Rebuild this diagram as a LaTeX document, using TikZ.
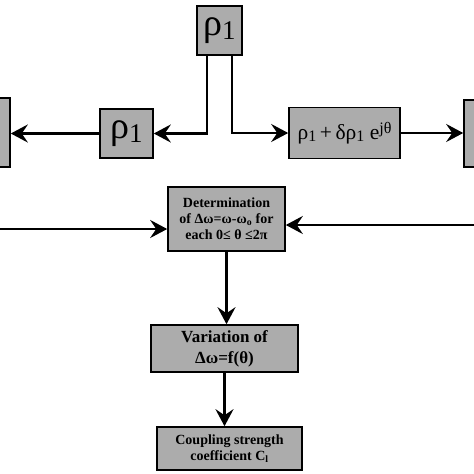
\documentclass[tikz,border=0pt]{standalone}
\usepackage{fontspec}
\setmainfont{Liberation Serif}
\newfontfamily\timesf{Liberation Serif}
\usetikzlibrary{arrows.meta}
\definecolor{boxgray}{RGB}{172,172,172}
\tikzset{
  box/.style={draw=black, line width=1.6pt, fill=boxgray, inner sep=0pt, align=center},
  arr/.style={line width=2.2pt, -{Stealth[length=17pt,width=18pt,inset=6pt]}},
}
\newcommand{\rhoone}{{\timesf\fontsize{38}{38}\selectfont ρ\raisebox{-0.25ex}{\fontsize{27}{27}\selectfont 1}}}
\begin{document}
\begin{tikzpicture}[x=1pt,y=-1pt]
\useasboundingbox (0,0) rectangle (474,474);
\clip (0,0) rectangle (474,474);
\node[box, minimum width=45pt, minimum height=49pt] (top) at (219.5,30.5) {\rhoone};
\node[box, minimum width=53pt, minimum height=49pt] (mid) at (126.5,133.5) {\rhoone};
\node[box, minimum width=111pt, minimum height=51pt, font=\timesf] (sum) at (344.5,133)
  {\fontsize{21.5}{21.5}\selectfont ρ\raisebox{-0.25ex}{\fontsize{16}{16}\selectfont 1}\,+\,δρ\raisebox{-0.25ex}{\fontsize{16}{16}\selectfont 1} e\raisebox{0.6ex}{\fontsize{16}{16}\selectfont jθ}};
\node[box, minimum width=50pt, minimum height=69pt] (leftedge) at (-15,132.5) {};
\node[box, minimum width=50pt, minimum height=67pt] (rightedge) at (489,133.5) {};
\node[box, minimum width=117pt, minimum height=64pt, font=\timesf\bfseries\fontsize{14}{16}\selectfont] (det) at (226.5,219)
  {Determination\\of Δω=ω-ω\textsubscript{o} for\\each 0≤ θ ≤2π};
\node[box, minimum width=147pt, minimum height=47pt, font=\timesf\bfseries\fontsize{17}{21}\selectfont] (var) at (224.5,348.5)
  {Variation of\\Δω=f(θ)};
\node[box, minimum width=145pt, minimum height=43pt, font=\timesf\bfseries\fontsize{14}{16}\selectfont] (coup) at (229.5,448.5)
  {Coupling strength\\coefficient C\textsubscript{l}};
\draw[arr] ([xshift=-12.5pt]top.south) |- (mid.east);
\draw[arr] ([xshift=12.5pt]top.south) |- (sum.west);
\draw[arr] (mid.west) -- (mid.west -| leftedge.east);
\draw[arr] (sum.east) -- (sum.east -| rightedge.west);
\coordinate (lin) at (0,229);
\coordinate (rin) at (474,225);
\draw[arr] (lin) -- (lin -| det.west);
\draw[arr] (rin) -- (rin -| det.east);
\draw[arr] (det.south) -- (det.south |- var.north);
\draw[arr] (var.south) -- (var.south |- coup.north);
\end{tikzpicture}
\end{document}
